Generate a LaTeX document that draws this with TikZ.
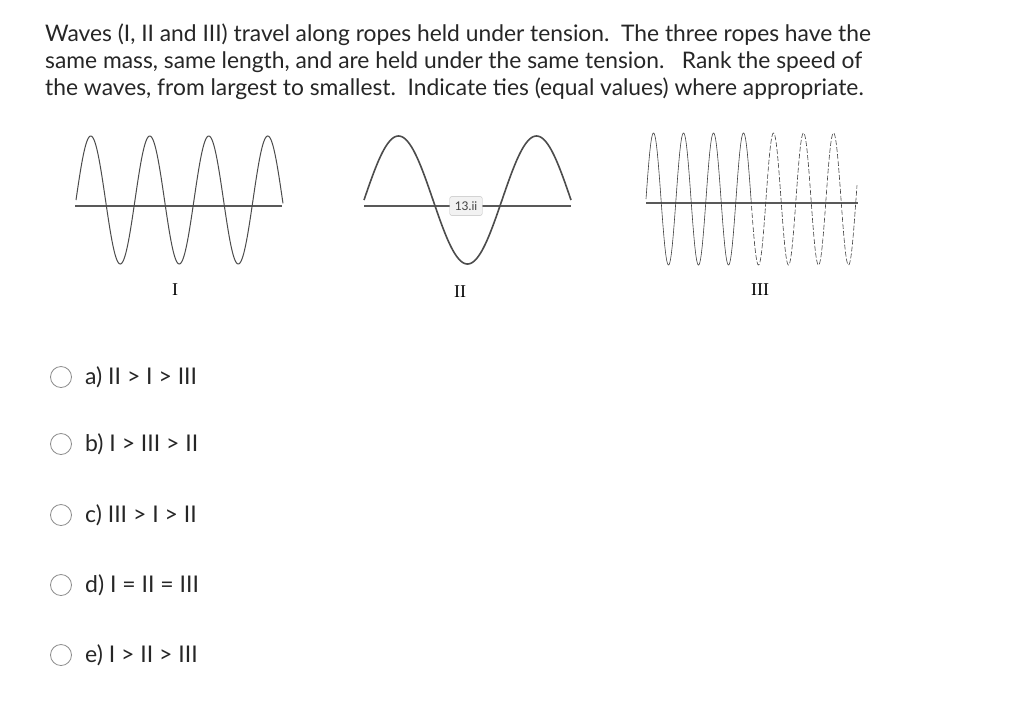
\documentclass[tikz,border=0pt]{standalone}
\usepackage{fontspec}
\setmainfont{Lato}
\newfontfamily\romanfont{Liberation Serif}
\begin{document}
\begin{tikzpicture}[x=1pt,y=-1pt,
  qtext/.style={anchor=west,inner sep=0pt,font=\fontsize{22.8}{27}\selectfont,text=black!85,align=left},
  opt/.style={anchor=west,inner sep=0pt,font=\fontsize{23}{26}\selectfont,text=black!85},
  radio/.style={circle,draw=black!45,line width=0.8pt,minimum size=21pt,inner sep=0pt},
  wave/.style={draw=black!70,line width=1pt},
  axisline/.style={draw=black!65,line width=1.6pt},
  lab/.style={font=\romanfont\fontsize{18}{18}\selectfont,inner sep=0pt}]
\useasboundingbox (0,0) rectangle (1024,702);
\fill[white] (0,0) rectangle (1024,702);
\node[qtext] (q) at (45,62) {Waves (I, II and III) travel along ropes held under tension.\ \ The three ropes have the\\same mass, same length, and are held under the same tension.\ \ \ Rank the speed of\\the waves, from largest to smallest.\ \ Indicate ties (equal values) where appropriate.};
% wave I
\draw[axisline] (75,206) -- (282,206);
\draw[wave] plot[domain=76:283,samples=300] (\x,{200-64*sin(360/59*(\x-76))});
\node[lab] (l1) at (175,290) {I};
% wave II
\draw[axisline] (364,206) -- (571,206);
\draw[wave,line width=1.6pt] plot[domain=364:571,samples=200] (\x,{200-64*sin(360/138*(\x-364))});
\node[lab] (l2) at (460,292) {II};
\node[draw=black!25,fill=black!5,rounded corners=2pt,font=\fontsize{12}{12}\selectfont,text=black!75,inner sep=5pt] (tip) at (466,206) {13.ii};
% wave III
\draw[axisline,line width=1.4pt] (646,203) -- (858,203);
\draw[draw=black!75,line width=0.6pt] plot[domain=646:751,samples=300] (\x,{199-66*sin(12*(\x-646))});
\draw[draw=black!75,line width=0.6pt,dash pattern=on 5pt off 2pt] plot[domain=751:857,samples=300] (\x,{199-66*sin(12*(\x-646))});
\node[lab] (l3) at (760,290) {III};
% options
\foreach \y/\t [count=\i] in {377/{a) II > I > III},444/{b) I > III > II},515/{c) III > I > II},585/{d) I = II = III},655/{e) I > II > III}}{
  \node[radio] (r\i) at (61,\y) {};
  \node[opt] (o\i) at (85,\y) {\t};
}
\end{tikzpicture}
\end{document}
